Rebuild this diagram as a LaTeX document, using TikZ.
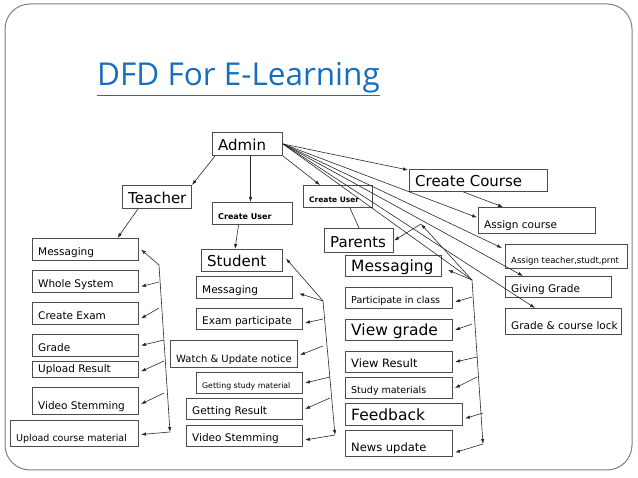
\documentclass[tikz,border=0pt]{standalone}
\usepackage{fontspec}
\setmainfont{DejaVu Sans}
\newfontfamily\titlefont{Open Sans}
\usetikzlibrary{arrows.meta,calc}
\definecolor{ttl}{RGB}{24,110,190}
\definecolor{edge}{RGB}{40,40,40}
\tikzset{
  box/.style={draw=black!70,line width=1pt,inner sep=0pt,anchor=north west},
  arr/.style={draw=edge,line width=0.6pt,-{Latex[length=5pt,width=3.5pt]}},
  ln/.style={draw=edge,line width=0.6pt},
}
\newcommand\bx[7]{%
  \node[box,minimum width={(#4-#2)*1pt},minimum height={(#5-#3)*1pt}] (#1) at (#2,#3) {};
  \node[anchor=base west,inner sep=0pt,font=#6] at ({#2+6},{#5-4}) {#7};}
\begin{document}
\begin{tikzpicture}[x=1pt,y=-1pt]
\useasboundingbox (0,0) rectangle (638,478);
\draw[black!50,line width=1pt,rounded corners=25] (5,4) rectangle (632,470);
\node[anchor=base west,inner sep=0pt,text=ttl,font=\titlefont\fontsize{31.5}{34}\selectfont] (title) at (97,86) {\underline{DFD For E-Learning}};
% top level
\bx{admin}{212}{132}{282}{155}{\fontsize{15}{16}\selectfont}{Admin}
\bx{teacher}{122}{185}{191}{208}{\fontsize{15}{16}\selectfont}{Teacher}
\bx{cu1}{212}{202}{292}{224}{\bfseries\fontsize{8}{9}\selectfont}{Create User}
\bx{cu2}{303}{185}{372}{207}{\bfseries\fontsize{7.5}{9}\selectfont}{Create User}
\bx{cc}{409}{169}{547}{191}{\fontsize{15}{16}\selectfont}{Create Course}
\bx{ac}{478}{207}{595}{233}{\fontsize{10.5}{12}\selectfont}{Assign course}
\bx{parents}{324}{228}{393}{252}{\fontsize{15}{16}\selectfont}{Parents}
\bx{at}{505}{244}{627}{268}{\fontsize{8.5}{10}\selectfont}{Assign teacher,studt,prnt}
\bx{gg}{505}{276}{611}{297}{\fontsize{10.5}{12}\selectfont}{Giving Grade}
\bx{gl}{505}{308}{621}{334}{\fontsize{10.5}{12}\selectfont}{Grade \& course lock}
% teacher column
\bx{tmsg}{32}{238}{138}{260}{\fontsize{10.5}{12}\selectfont}{Messaging}
\bx{tws}{32}{270}{138}{292}{\fontsize{10.5}{12}\selectfont}{Whole System}
\bx{tce}{32}{302}{138}{324}{\fontsize{10.5}{12}\selectfont}{Create Exam}
\bx{tgr}{32}{334}{138}{356}{\fontsize{10.5}{12}\selectfont}{Grade}
\bx{tur}{32}{361}{138}{377}{\fontsize{10.5}{12}\selectfont}{Upload Result}
\bx{tvs}{32}{387}{138}{414}{\fontsize{10.5}{12}\selectfont}{Video Stemming}
\bx{tuc}{10}{420}{138}{446}{\fontsize{9.5}{11}\selectfont}{Upload course material}
% student column
\bx{student}{201}{249}{282}{271}{\fontsize{15}{16}\selectfont}{Student}
\bx{smsg}{196}{276}{292}{298}{\fontsize{10.5}{12}\selectfont}{Messaging}
\bx{sep}{196}{308}{302}{329}{\fontsize{10.5}{12}\selectfont}{Exam participate}
\bx{swu}{170}{340}{297}{367}{\fontsize{10}{12}\selectfont}{Watch \& Update notice}
\bx{sgs}{196}{372}{302}{393}{\fontsize{7.8}{9}\selectfont}{Getting study material}
\bx{sgr}{186}{398}{302}{419}{\fontsize{10.5}{12}\selectfont}{Getting Result}
\bx{svs}{186}{425}{302}{446}{\fontsize{10.5}{12}\selectfont}{Video Stemming}
% parents column
\bx{pmsg}{345}{255}{441}{276}{\fontsize{15.5}{17}\selectfont}{Messaging}
\bx{ppc}{345}{287}{452}{308}{\fontsize{9.5}{11}\selectfont}{Participate in class}
\bx{pvg}{345}{319}{452}{340}{\fontsize{15.5}{17}\selectfont}{View grade}
\bx{pvr}{345}{351}{452}{372}{\fontsize{11.5}{13}\selectfont}{View Result}
\bx{psm}{345}{377}{452}{398}{\fontsize{9.5}{11}\selectfont}{Study materials}
\bx{pfb}{345}{403}{462}{425}{\fontsize{15.5}{17}\selectfont}{Feedback}
\bx{pnu}{345}{430}{452}{456}{\fontsize{11.5}{13}\selectfont}{News update}
% hubs
\coordinate (th) at (159,265);
\coordinate (tb) at (170,432);
\coordinate (sh) at (323,301);
\coordinate (sb) at (335,435);
\coordinate (ph) at (472,280);
\coordinate (pb) at (483,444);
\coordinate (pp) at (421,224);
% admin edges
\draw[arr] ($(admin.south west)+(3,0)$) -- (teacher.north east);
\draw[arr] ($(admin.south)+(3,0)$) -- (cu1.north -| {$(admin.south)+(3,0)$});
\draw[arr] (admin.south east) -- ($(cu2.north west)+(17,0)$);
\draw[arr] (admin.east) -- ($(cc.north west)+(-1,1)$);
\draw[arr] (admin.east) -- ($(ac.west)+(-1,-3)$);
\draw[arr] (admin.east) -- ($(at.north west)+(-3,4)$);
\draw[arr] (admin.east) -- ($(gg.north west)+(18,0)$);
\draw[arr] (admin.east) -- ($(gl.north west)+(30,0)$);
\draw[ln] (admin.east) -- (ph);
\draw[arr] ($(cc.south)+(-15,0)$) -- ($(ac.north)+(-34,0)$);
\draw[ln] ($(cu2.south)+(12,0)$) -- (parents.north);
\draw[arr] ($(cu1.south)+(-14,0)$) -- ($(student.north)+(-7,0)$);
\draw[arr] ($(teacher.south)+(-19,0)$) -- ($(tmsg.north)+(32,0)$);
% teacher fan
\draw[arr] (th) -- ($(tmsg.east)+(2,0)$);
\draw[arr] (th) -- (tb);
\draw[arr] (159,282) -- ($(tws.east)+(2,5)$);
\draw[arr] (159,308) -- ($(tce.east)+(2,5)$);
\draw[arr] (164,340) -- ($(tgr.east)+(2,0)$);
\draw[arr] (164,361) -- ($(tur.east)+(2,2)$);
\draw[arr] (164,393) -- ($(tvs.east)+(2,3)$);
\draw[arr] (tb) -- ($(tuc.east)+(2,1)$);
% student fan
\draw[arr] (sh) -- ($(student.east)+(3,-2)$);
\draw[arr] (sh) -- (sb);
\draw[arr] (sh) -- ($(smsg.east)+(6,6)$);
\draw[arr] (323,319) -- ($(sep.east)+(2,4)$);
\draw[arr] (323,346) -- ($(swu.east)+(2,1)$);
\draw[arr] (330,377) -- ($(sgs.east)+(2,0)$);
\draw[arr] (330,398) -- ($(sgr.east)+(2,0)$);
\draw[arr] (sb) -- ($(svs.east)+(2,4)$);
% parents fan
\draw[arr] (ph) -- (pp);
\draw[arr] (pp) -- (parents.east);
\draw[arr] (ph) -- (pb);
\draw[arr] (ph) -- ($(pmsg.east)+(6,4)$);
\draw[arr] (472,297) -- ($(ppc.east)+(2,4)$);
\draw[arr] (472,324) -- ($(pvg.east)+(2,0)$);
\draw[arr] (477,357) -- ($(pvr.east)+(2,0)$);
\draw[arr] (477,377) -- ($(psm.east)+(2,0)$);
\draw[arr] (483,413) -- ($(pfb.east)+(2,4)$);
\draw[arr] (pb) -- ($(pnu.east)+(2,9)$);
\end{tikzpicture}
\end{document}
